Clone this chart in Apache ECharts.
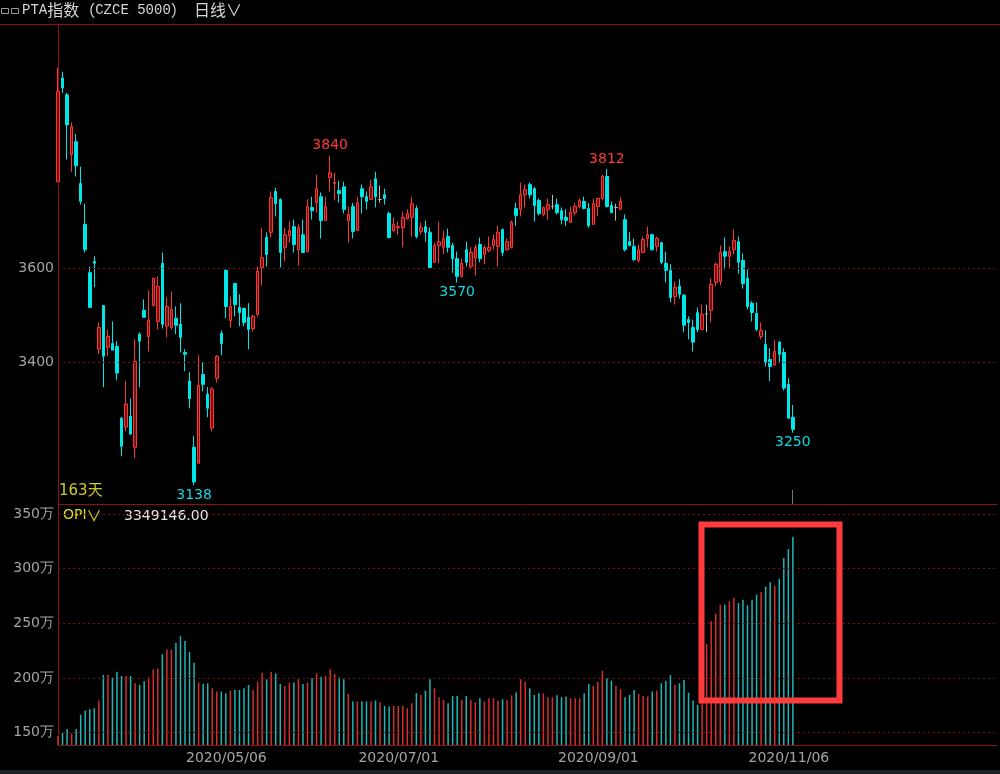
<!DOCTYPE html>
<html><head><meta charset="utf-8">
<script src="https://cdn.jsdelivr.net/npm/echarts@6/dist/echarts.min.js"></script>
<style>html,body{margin:0;padding:0;background:#000;}#c{width:1000px;height:774px;}</style>
</head><body><div id="c"></div>
<script>
// ---- data ----
const startDate = '2020-03-09';
const holidays = ['2020-04-06','2020-05-01','2020-05-04','2020-05-05','2020-06-25','2020-06-26',
  '2020-10-01','2020-10-02','2020-10-05','2020-10-06','2020-10-07','2020-10-08'];
const tickDates = ['2020/05/06','2020/07/01','2020/09/01','2020/11/06'];
const priceTicks = [3400, 3600];
const opiTicks = [150, 200, 250, 300, 350];
// [open, close, low, high]
const candles = [
[3785,3977,3785,4028],[4006,3985,3974,4019],[3970,3906,3832,3974],[3843,3902,3806,3911],[3870,3819,3796,3887],
[3781,3743,3736,3817],[3694,3640,3634,3738],[3591,3517,3517,3604],[3615,3611,3560,3626],[3428,3474,3417,3485],
[3521,3413,3347,3521],[3432,3455,3413,3470],[3440,3426,3426,3487],[3434,3377,3362,3445],[3281,3221,3200,3283],
[3262,3311,3253,3360],[3285,3247,3245,3323],[3219,3402,3196,3449],[3460,3445,3347,3464],[3511,3496,3496,3534],
[3455,3489,3423,3553],[3521,3579,3519,3581],[3487,3562,3470,3583],[3611,3481,3472,3634],[3477,3519,3453,3538],
[3474,3513,3470,3551],[3494,3479,3460,3519],[3481,3453,3421,3526],[3421,3417,3381,3428],[3360,3323,3302,3379],
[3219,3145,3138,3243],[3185,3351,3183,3415],[3374,3353,3338,3400],[3332,3302,3283,3347],[3260,3343,3253,3347],
[3366,3413,3357,3415],[3462,3440,3415,3468],[3596,3519,3494,3598],[3489,3519,3474,3540],[3568,3523,3498,3568],
[3517,3506,3477,3545],[3515,3485,3477,3515],[3496,3470,3428,3526],[3472,3498,3466,3502],[3502,3594,3498,3604],
[3602,3623,3564,3687],[3666,3630,3604,3677],[3677,3751,3666,3764],[3764,3738,3711,3772],[3747,3634,3602,3749],
[3645,3672,3615,3687],[3670,3681,3655,3700],[3689,3651,3634,3704],[3640,3687,3606,3694],[3672,3634,3634,3704],
[3636,3732,3634,3747],[3730,3723,3704,3753],[3740,3770,3719,3800],[3753,3702,3664,3762],[3702,3732,3702,3753],
[3794,3804,3764,3840],[3781,3783,3745,3804],[3766,3760,3740,3787],[3774,3726,3717,3785],[3702,3715,3655,3732],
[3732,3679,3664,3740],[3681,3740,3681,3753],[3770,3753,3717,3779],[3753,3743,3726,3764],[3747,3774,3747,3789],
[3791,3753,3730,3806],[3747,3747,3740,3777],[3757,3749,3736,3770],[3717,3666,3664,3721],[3681,3694,3677,3709],
[3687,3689,3672,3700],[3687,3709,3645,3721],[3706,3717,3704,3726],[3709,3738,3668,3753],[3728,3668,3664,3734],
[3679,3687,3672,3698],[3689,3677,3657,3702],[3677,3602,3600,3687],[3613,3649,3613,3655],[3649,3657,3611,3700],
[3645,3664,3630,3681],[3668,3645,3634,3685],[3649,3621,3591,3655],[3621,3583,3570,3636],[3583,3611,3581,3621],
[3640,3613,3604,3657],[3604,3634,3600,3645],[3623,3645,3585,3651],[3651,3621,3613,3666],[3630,3645,3609,3649],
[3638,3645,3634,3668],[3649,3662,3640,3672],[3647,3677,3604,3691],[3683,3634,3626,3685],[3640,3657,3638,3664],
[3645,3698,3643,3702],[3728,3713,3691,3740],[3726,3757,3711,3783],[3757,3768,3730,3779],[3779,3757,3749,3783],
[3770,3734,3700,3774],[3745,3717,3713,3749],[3715,3730,3711,3732],[3726,3736,3704,3749],[3732,3732,3726,3757],
[3736,3719,3715,3749],[3723,3704,3694,3730],[3709,3702,3691,3726],[3698,3719,3698,3732],[3719,3732,3713,3740],
[3732,3745,3728,3749],[3743,3728,3726,3753],[3728,3691,3687,3740],[3694,3738,3694,3749],[3732,3749,3711,3751],
[3749,3796,3745,3800],[3796,3732,3730,3812],[3734,3719,3717,3743],[3730,3730,3702,3738],[3726,3743,3726,3751],
[3704,3640,3636,3715],[3657,3649,3647,3677],[3647,3619,3615,3664],[3617,3640,3613,3651],[3634,3662,3634,3668],
[3664,3672,3645,3689],[3672,3640,3638,3674],[3647,3664,3636,3668],[3655,3613,3609,3657],[3611,3596,3570,3636],
[3596,3538,3528,3609],[3540,3560,3523,3572],[3562,3545,3536,3577],[3543,3479,3464,3545],[3491,3485,3449,3498],
[3474,3443,3423,3491],[3506,3470,3464,3517],[3470,3502,3470,3523],[3503,3503,3464,3523],[3511,3566,3485,3579],
[3570,3609,3562,3613],[3572,3634,3564,3649],[3636,3626,3598,3666],[3626,3636,3602,3647],[3640,3660,3630,3683],
[3657,3613,3589,3668],[3617,3568,3557,3632],[3579,3519,3513,3598],[3526,3506,3487,3530],[3504,3470,3466,3528],
[3455,3468,3449,3485],[3438,3400,3391,3468],[3406,3391,3360,3430],[3394,3423,3394,3447],[3443,3417,3398,3445],
[3421,3345,3340,3430],[3353,3281,3279,3366],[3283,3257,3250,3309]
];
// open interest, unit 万
const opi = [
146.7,149.7,153.3,149.1,153.3,166.4,170.3,171.5,172.4,179.4,
202.7,202.7,200.3,205.8,201.8,201.8,201.8,195.2,193.6,197.0,
200.6,207.9,208.8,221.8,226.0,226.0,232.1,238.2,233.9,223.9,
213.9,195.8,194.5,195.2,190.6,187.6,187.6,186.1,188.5,189.1,
189.1,190.6,193.6,189.1,196.6,204.8,198.8,205.8,204.2,194.5,
192.7,195.8,195.8,198.8,194.5,195.8,199.7,204.2,201.2,201.8,
207.9,203.6,200.6,198.8,185.5,178.5,178.5,178.5,178.5,178.5,
179.4,177.6,174.5,173.9,174.5,174.5,174.5,172.4,177.0,186.1,
184.5,188.5,198.8,190.6,182.4,180.0,177.0,183.6,183.6,180.0,
183.6,180.0,177.6,181.5,178.5,181.5,181.5,179.1,180.6,180.0,
184.2,186.7,198.8,196.6,190.6,184.5,186.1,186.1,182.4,182.4,
184.2,182.4,183.0,181.5,181.5,181.5,186.1,194.5,192.7,196.6,
206.7,199.7,197.6,192.7,189.7,182.4,184.5,189.1,185.5,183.6,
183.0,187.6,188.5,195.2,197.6,202.7,193.6,195.2,198.2,186.7,
179.4,175.5,185.0,231.0,252.0,258.8,267.0,267.0,270.3,273.3,
268.5,271.5,266.4,271.5,276.1,278.5,283.6,287.6,284.5,290.6,
309.7,317.9,329.1
];
const highMarks = [[60, 3840], [121, 3812]];
const lowMarks = [[30, 3138], [88, 3570], [162, 3250]];
const lastOpiText = '3349146.00';
const dayCountText = '163天';

// ---- build ----
function tradingDays(start, n) {
  const out = []; const d = new Date(start + 'T00:00:00Z');
  while (out.length < n) {
    const wd = d.getUTCDay(); const s = d.toISOString().slice(0, 10);
    if (wd !== 0 && wd !== 6 && holidays.indexOf(s) < 0) out.push(s.replace(/-/g, '/'));
    d.setUTCDate(d.getUTCDate() + 1);
  }
  return out;
}
const dates = tradingDays(startDate, candles.length);
const N = 208;
const cats = dates.slice();
for (let k = cats.length; k < N; k++) cats.push('pad' + k);

const UP = '#ff3535', UPFILL = '#6e1414', DOWN = '#00e6e6', FLAT = '#b8b8b8';
const BAR_UP = '#d23030', BAR_DOWN = '#20b6b6';
const candleData = candles.map(c => {
  if (c[0] === c[1]) return { value: c, itemStyle: { color: FLAT, color0: FLAT, borderColor: FLAT, borderColor0: FLAT } };
  return { value: c };
});
const opiData = opi.map((v, i) => ({ value: v, itemStyle: { color: candles[i][1] < candles[i][0] ? BAR_DOWN : BAR_UP } }));

const axisRed = '#8e1010';
const gridLine = { color: '#7e0c0c', type: [2, 3], width: 1 };
const labelFont = 'DejaVu Sans';

const markPts = highMarks.map(m => ({ coord: [dates[m[0]], m[1]], value: m[1],
    label: { position: 'top', color: '#ff3a3a' } }))
  .concat(lowMarks.map(m => ({ coord: [dates[m[0]], m[1]], value: m[1],
    label: { position: 'bottom', color: '#10d8e0' } })));

const chart = echarts.init(document.getElementById('c'), null, { renderer: 'canvas' });
chart.setOption({
  backgroundColor: '#000',
  animation: false,
  grid: [
    { left: 58, right: 3, top: 24, height: 480, outerBoundsMode: 'none' },
    { left: 58, right: 3, top: 504, height: 241, outerBoundsMode: 'none' }
  ],
  xAxis: [
    { type: 'category', gridIndex: 0, data: cats, boundaryGap: false,
      axisLine: { show: true, lineStyle: { color: axisRed } }, axisTick: { show: false },
      axisLabel: { show: false }, splitLine: { show: false } },
    { type: 'category', gridIndex: 1, data: cats, boundaryGap: false,
      axisLine: { show: true, lineStyle: { color: axisRed } }, axisTick: { show: false },
      axisLabel: { show: true, color: '#a4a4a4', fontSize: 14, fontFamily: labelFont, margin: 6,
        padding: [0, 8, 0, 0],
        interval: (idx, val) => tickDates.indexOf(val) >= 0,
        formatter: v => tickDates.indexOf(v) >= 0 ? v : '' },
      splitLine: { show: false } }
  ],
  yAxis: [
    { type: 'value', gridIndex: 0, min: 3098, max: 4121, position: 'left',
      axisLine: { show: true, lineStyle: { color: axisRed } }, axisTick: { show: false },
      splitLine: { show: false },
      axisLabel: { customValues: priceTicks, color: '#a4a4a4', fontSize: 14, fontFamily: labelFont, margin: 4,
        formatter: v => String(v) } },
    { type: 'value', gridIndex: 1, min: 138.75, max: 359.1, position: 'left',
      axisLine: { show: true, lineStyle: { color: axisRed } }, axisTick: { show: false },
      splitLine: { show: false },
      axisLabel: { customValues: opiTicks, color: '#a4a4a4', fontSize: 14, fontFamily: labelFont, margin: 4,
        formatter: v => v + '万' } }
  ],
  series: [
    { type: 'candlestick', xAxisIndex: 0, yAxisIndex: 0, data: candleData, barWidth: 3,
      itemStyle: { color: UPFILL, color0: DOWN, borderColor: UP, borderColor0: DOWN, borderWidth: 1 },
      markLine: { silent: true, symbol: 'none', label: { show: false }, lineStyle: gridLine,
        data: priceTicks.map(v => ({ yAxis: v })) },
      markPoint: { symbol: 'circle', symbolSize: 0, silent: true,
        label: { show: true, fontSize: 14, fontFamily: labelFont, distance: 3, formatter: p => String(p.value) },
        data: markPts }
    },
    { type: 'bar', xAxisIndex: 1, yAxisIndex: 1, data: opiData, barWidth: 1.5,
      markLine: { silent: true, symbol: 'none', label: { show: false }, lineStyle: gridLine,
        data: opiTicks.map(v => ({ yAxis: v })) }
    }
  ],
  graphic: [
    { type: 'line', shape: { x1: 0, y1: 24.5, x2: 1000, y2: 24.5 }, style: { stroke: axisRed, lineWidth: 1 }, silent: true },
    { type: 'rect', shape: { x: 0, y: 770, width: 1000, height: 4 }, style: { fill: '#1f2225' }, silent: true },
    { type: 'rect', shape: { x: 1.5, y: 8.5, width: 7, height: 5 }, style: { fill: null, stroke: '#9a9a9a', lineWidth: 1 }, silent: true },
    { type: 'rect', shape: { x: 11.5, y: 8.5, width: 7, height: 5 }, style: { fill: null, stroke: '#9a9a9a', lineWidth: 1 }, silent: true },
    { type: 'text', left: 22, top: 2, silent: true,
      style: { text: '{m|PTA}{c|指数（}{m|CZCE 5000}{c|）  日线}{v|∨}', fill: '#d6d6d6',
        rich: {
          m: { fontFamily: 'Liberation Mono', fontSize: 14, fill: '#d6d6d6' },
          c: { fontFamily: 'Noto Sans CJK SC', fontSize: 16, fill: '#d6d6d6' },
          v: { fontFamily: 'Noto Sans CJK SC', fontSize: 16, fill: '#d6d6d6' }
        } } },
    { type: 'text', left: 59, top: 484, silent: true,
      style: { text: dayCountText, fill: '#cccc22', font: '15px "DejaVu Sans", "Noto Sans CJK SC"' } },
    { type: 'text', left: 63, top: 508, silent: true,
      style: { text: '{a|OPI}{b|∨}', fill: '#d8d824',
        rich: { a: { fontFamily: 'DejaVu Sans', fontSize: 14, fill: '#d8d824' },
                b: { fontFamily: 'Noto Sans CJK SC', fontSize: 15, fill: '#d8d824' } } } },
    { type: 'text', left: 124, top: 509, silent: true,
      style: { text: lastOpiText, fill: '#e6e6e6', font: '14px "DejaVu Sans"' } },
    { type: 'line', shape: { x1: 792.5, y1: 490, x2: 792.5, y2: 504 }, style: { stroke: '#777', lineWidth: 1 }, silent: true },
    { type: 'rect', shape: { x: 701.5, y: 524.5, width: 138, height: 176 },
      style: { fill: null, stroke: '#ff3b3b', lineWidth: 6 }, silent: true, z: 100 }
  ]
});
</script></body></html>
